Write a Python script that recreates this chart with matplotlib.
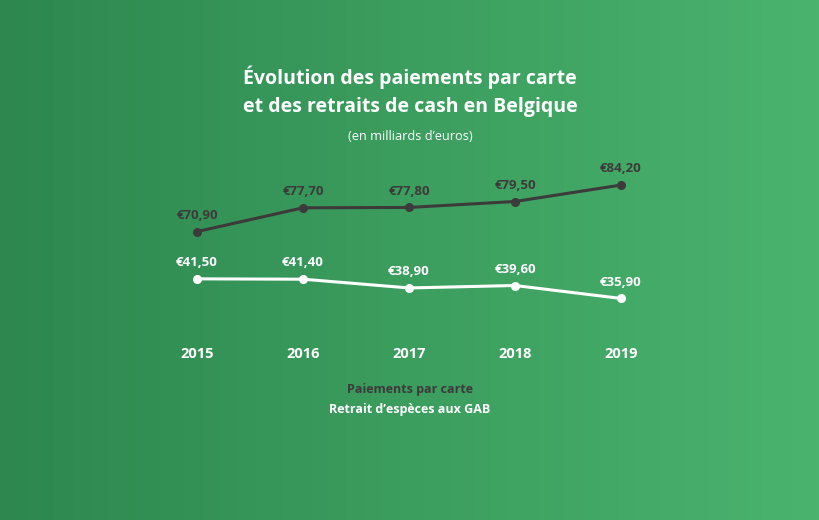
import numpy as np
import matplotlib
matplotlib.use("Agg")
import matplotlib.pyplot as plt

years = ["2015", "2016", "2017", "2018", "2019"]
card_payments = [70.9, 77.7, 77.8, 79.5, 84.2]
cash_withdrawals = [41.5, 41.4, 38.9, 39.6, 35.9]
card_labels = ["€70,90", "€77,70", "€77,80", "€79,50", "€84,20"]
cash_labels = ["€41,50", "€41,40", "€38,90", "€39,60", "€35,90"]

DARK = "#3d3a3b"
WHITE = "#ffffff"

plt.rcParams['font.family'] = ['Open Sans', 'DejaVu Sans']

fig = plt.figure(figsize=(8.2, 5.2), dpi=100)

# gradient background
bg = fig.add_axes([0, 0, 1, 1], zorder=0)
left_col = np.array([45, 135, 79]) / 255
right_col = np.array([74, 180, 110]) / 255
t = np.linspace(0, 1, 256)
grad = left_col[None, :] * (1 - t[:, None]) + right_col[None, :] * t[:, None]
bg.imshow(grad[None, :, :], aspect="auto", extent=[0, 1, 0, 1])
bg.axis("off")

x = np.arange(len(years))

ax1 = fig.add_axes([197 / 820, 210 / 520, 424 / 820, 140 / 520], zorder=2)
ax2 = fig.add_axes([197 / 820, 210 / 520, 424 / 820, 140 / 520], zorder=3)
for ax in (ax1, ax2):
    ax.set_xlim(0, 4)
    ax.axis("off")
    ax.patch.set_alpha(0)

ax1.set_ylim(48.5, 88.5)
ax2.set_ylim(32.6, 72.6)

ax1.plot(x, card_payments, color=DARK, lw=2.2, marker="o", ms=5.5, clip_on=False)
ax2.plot(x, cash_withdrawals, color=WHITE, lw=2.2, marker="o", ms=5.5, clip_on=False)

for xi, v, lab in zip(x, card_payments, card_labels):
    ax1.annotate(lab, (xi, v), xytext=(0, 7), textcoords="offset points",
                 ha="center", va="bottom", color=DARK, fontsize=9.5,
                 fontweight="bold", annotation_clip=False)
for xi, v, lab in zip(x, cash_withdrawals, cash_labels):
    ax2.annotate(lab, (xi, v), xytext=(0, 7), textcoords="offset points",
                 ha="center", va="bottom", color=WHITE, fontsize=9.5,
                 fontweight="bold", annotation_clip=False)

for xi, yr in zip(x, years):
    ax1.annotate(yr, (xi, 0), xycoords=("data", "axes fraction"),
                 xytext=(0, -32), textcoords="offset points",
                 ha="center", va="center", color=WHITE, fontsize=10.5,
                 fontweight="bold", annotation_clip=False)

fig.text(0.5, 1 - 77 / 520, "Évolution des paiements par carte", ha="center", va="center",
         color=WHITE, fontsize=14, fontweight="bold")
fig.text(0.5, 1 - 107 / 520, "et des retraits de cash en Belgique", ha="center", va="center",
         color=WHITE, fontsize=14, fontweight="bold")
fig.text(0.5, 1 - 137 / 520, "(en milliards d’euros)", ha="center", va="center",
         color=WHITE, fontsize=9.2)

fig.text(0.5, 1 - 389 / 520, "Paiements par carte", ha="center", va="center",
         color=DARK, fontsize=9, fontweight="bold")
fig.text(0.5, 1 - 409 / 520, "Retrait d’espèces aux GAB", ha="center", va="center",
         color=WHITE, fontsize=9, fontweight="bold")

fig.savefig("out.png", dpi=100)
